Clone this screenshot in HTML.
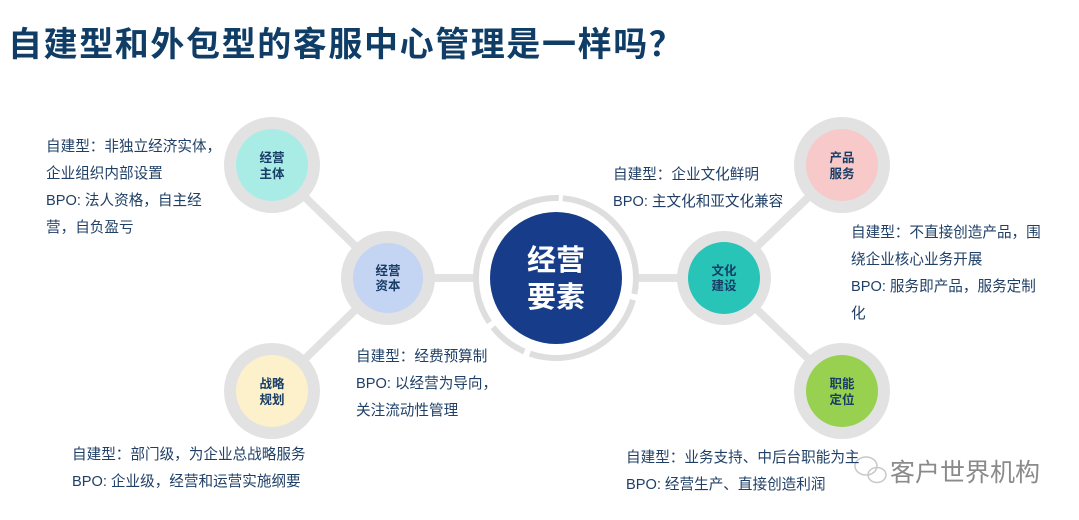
<!DOCTYPE html>
<html><head><meta charset="utf-8"><style>
body{margin:0;width:1079px;height:520px;background:#fff;overflow:hidden;position:relative;font-family:"Liberation Sans","Noto Sans CJK SC",sans-serif;}
.t{position:absolute;font-size:14.6px;color:#1f3f66;line-height:27px;white-space:nowrap;}
h1{position:absolute;left:8px;top:17px;margin:0;font-size:34px;font-weight:bold;color:#0f3d66;letter-spacing:1.6px;white-space:nowrap;}
</style></head><body>
<h1>自建型和外包型的客服中心管理是一样吗？</h1>
<svg width="1079" height="520" style="position:absolute;left:0;top:0">
<g stroke="#e2e2e2" stroke-width="8">
<line x1="272" y1="165" x2="388" y2="278"/>
<line x1="272" y1="391" x2="388" y2="278"/>
<line x1="388" y1="278" x2="480" y2="278"/>
<line x1="632" y1="278" x2="724" y2="278"/>
<line x1="724" y1="278" x2="842" y2="165"/>
<line x1="724" y1="278" x2="842" y2="391"/>
</g>
<g fill="#e2e2e2">
<circle cx="272" cy="165" r="48"/><circle cx="272" cy="391" r="48"/>
<circle cx="388" cy="278" r="47"/><circle cx="724" cy="278" r="47"/>
<circle cx="842" cy="165" r="48"/><circle cx="842" cy="391" r="48"/>
</g>
<circle cx="272" cy="165" r="36" fill="#a9ece5"/>
<circle cx="272" cy="391" r="36" fill="#fdf1cb"/>
<circle cx="388" cy="278" r="35" fill="#c4d4f3"/>
<circle cx="724" cy="278" r="36" fill="#27c4b7"/>
<circle cx="842" cy="165" r="36" fill="#f7c9c9"/>
<circle cx="842" cy="391" r="36" fill="#98d14f"/>
<circle cx="556" cy="278" r="80" fill="#fff" stroke="#dedede" stroke-width="6" stroke-dasharray="135 6 130 6 40 6 192" stroke-dashoffset="-4" transform="rotate(-88 556 278)"/>
<circle cx="556" cy="278" r="66" fill="#173d8a"/>
<g font-family="Liberation Sans,Noto Sans CJK SC,sans-serif" font-weight="bold" font-size="12.5" fill="#173d66" text-anchor="middle">
<text x="272" y="162">经营</text><text x="272" y="178">主体</text>
<text x="272" y="388">战略</text><text x="272" y="404">规划</text>
<text x="388" y="275">经营</text><text x="388" y="290">资本</text>
<text x="724" y="275">文化</text><text x="724" y="290">建设</text>
<text x="842" y="162">产品</text><text x="842" y="178">服务</text>
<text x="842" y="388">职能</text><text x="842" y="404">定位</text>
</g>
<g font-family="Liberation Sans,Noto Sans CJK SC,sans-serif" font-weight="bold" font-size="29" fill="#fff" text-anchor="middle">
<text x="556" y="270">经营</text><text x="556" y="307">要素</text>
</g>
<g fill="none" stroke="#c8c8c8" stroke-width="1.5">
<ellipse cx="866" cy="466" rx="11" ry="9"/><ellipse cx="877" cy="475" rx="9" ry="7.5"/>
</g>
<text x="890" y="481" font-family="Liberation Sans,Noto Sans CJK SC,sans-serif" font-size="25" fill="#8a8a8a">客户世界机构</text>
</svg>
<div class="t" style="left:46px;top:134px">自建型：非独立经济实体，<br>企业组织内部设置<br>BPO: 法人资格，自主经<br>营，自负盈亏</div>
<div class="t" style="left:356px;top:344px">自建型：经费预算制<br>BPO: 以经营为导向，<br>关注流动性管理</div>
<div class="t" style="left:72px;top:442px">自建型：部门级，为企业总战略服务<br>BPO: 企业级，经营和运营实施纲要</div>
<div class="t" style="left:613px;top:162px">自建型：企业文化鲜明<br>BPO: 主文化和亚文化兼容</div>
<div class="t" style="left:851px;top:220px">自建型：不直接创造产品，围<br>绕企业核心业务开展<br>BPO: 服务即产品，服务定制<br>化</div>
<div class="t" style="left:626px;top:445px">自建型：业务支持、中后台职能为主<br>BPO: 经营生产、直接创造利润</div>
</body></html>
